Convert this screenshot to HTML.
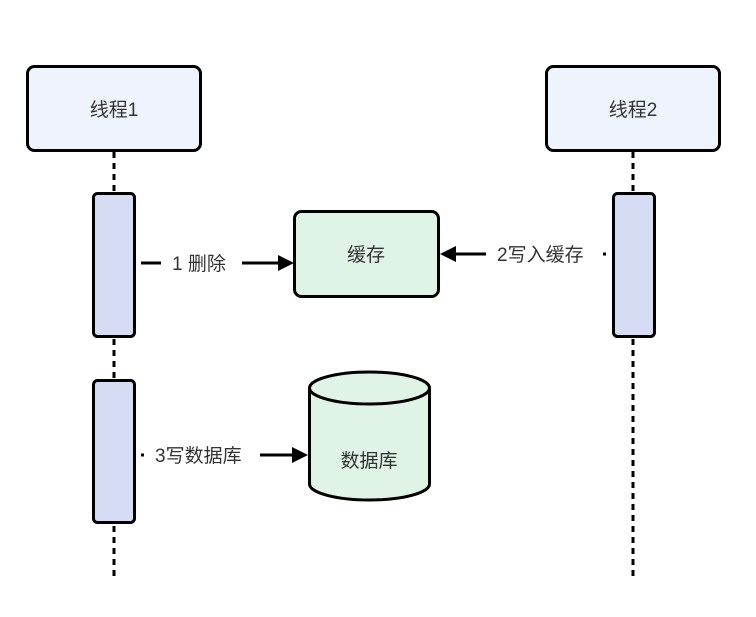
<!DOCTYPE html>
<html><head><meta charset="utf-8"><style>
html,body{margin:0;padding:0;background:#fff;}
svg text{font-family:"Liberation Sans","Noto Sans CJK SC",sans-serif;font-size:19px;fill:#333;}
</style></head><body>
<svg width="756" height="612" viewBox="0 0 756 612" xmlns="http://www.w3.org/2000/svg">
<g stroke="#000" stroke-width="3" stroke-dasharray="6,5">
<line x1="114" y1="152" x2="114" y2="580"/>
<line x1="633" y1="152" x2="633" y2="580"/>
</g>
<rect x="27.5" y="66.5" width="173" height="84" rx="7" fill="#eef3fc" stroke="#000" stroke-width="3"/>
<rect x="546.5" y="66.5" width="173" height="84" rx="7" fill="#eef3fc" stroke="#000" stroke-width="3"/>
<text x="114" y="116" text-anchor="middle">线程1</text>
<text x="633" y="116" text-anchor="middle">线程2</text>
<rect x="93.5" y="193.5" width="41" height="143" rx="4" fill="#d6dcf4" stroke="#000" stroke-width="3"/>
<rect x="93.5" y="380.5" width="41" height="142" rx="4" fill="#d6dcf4" stroke="#000" stroke-width="3"/>
<rect x="613.5" y="193.5" width="41" height="143" rx="4" fill="#d6dcf4" stroke="#000" stroke-width="3"/>
<rect x="294.5" y="211.5" width="144" height="85" rx="7" fill="#dff4e6" stroke="#000" stroke-width="3"/>
<text x="366" y="261" text-anchor="middle">缓存</text>
<path d="M309.5 388 L309.5 484 A60 16 0 0 0 429.5 484 L429.5 388 A60 16 0 0 0 309.5 388 Z" fill="#dff4e6" stroke="#000" stroke-width="3"/>
<path d="M309.5 388 A60 16 0 0 0 429.5 388" fill="none" stroke="#000" stroke-width="3"/>
<text x="369" y="467" text-anchor="middle">数据库</text>
<g stroke="#000" stroke-width="3">
<line x1="141" y1="263" x2="161" y2="263"/>
<line x1="242" y1="263" x2="280" y2="263"/>
<line x1="455" y1="254" x2="486" y2="254"/>
<line x1="260" y1="455" x2="294" y2="455"/>
<line x1="603" y1="254" x2="606" y2="254"/>
<line x1="141" y1="455" x2="144" y2="455"/>
</g>
<polygon points="294,263 278,255 278,271" fill="#000"/>
<polygon points="440,254 456,246 456,262" fill="#000"/>
<polygon points="308,455 292,447 292,463" fill="#000"/>
<text x="172" y="270">1 删除</text>
<text x="497" y="261">2写入缓存</text>
<text x="155" y="462">3写数据库</text>
</svg>
</body></html>
